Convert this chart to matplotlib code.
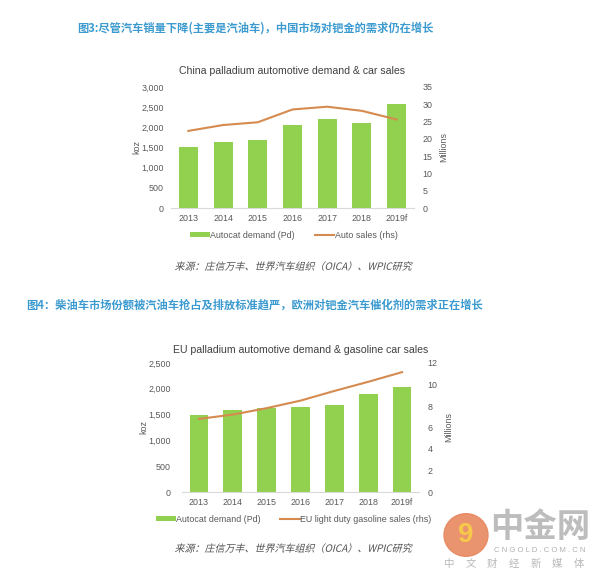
import matplotlib
matplotlib.use('Agg')
import matplotlib.pyplot as plt
import numpy as np
from matplotlib.patches import Circle, PathPatch
from matplotlib.textpath import TextPath
from matplotlib.font_manager import FontProperties
from matplotlib.transforms import Affine2D

plt.rcParams['font.family'] = ['Liberation Sans', 'Noto Sans CJK SC', 'DejaVu Sans']

years = ['2013', '2014', '2015', '2016', '2017', '2018', '2019f']

# China
cn_demand = [1520, 1625, 1675, 2070, 2200, 2100, 2585]
cn_sales = [22.3, 24.0, 24.8, 28.5, 29.3, 28.1, 25.6]

# EU
eu_demand = [1495, 1590, 1625, 1645, 1695, 1890, 2030]
eu_sales = [6.8, 7.2, 7.8, 8.5, 9.4, 10.25, 11.15]

GREEN = '#92d050'
ORANGE = '#d58b4f'
GREY = '#595959'
BLUE = '#3b9ad0'
W, H = 600, 582

fig = plt.figure(figsize=(6, 5.82), dpi=100)


def box(x0, y0, x1, y1):
    # pixel box (top-left origin) -> figure fraction rect
    return [x0 / W, (H - y1) / H, (x1 - x0) / W, (y1 - y0) / H]


def panel(rect, demand, sales, ymax, ystep, rmax, rstep, title, line_label,
          leg_y, lpad, kpad, tpad):
    ax = fig.add_axes(rect)
    x = range(len(years))
    bars = ax.bar(x, demand, width=0.55, color=GREEN, zorder=2)
    ax.set_xlim(-0.5, len(years) - 0.5)
    ax.set_ylim(0, ymax)
    ax.set_yticks(range(0, ymax + 1, ystep))
    ax.set_yticklabels([f'{v:,}' for v in range(0, ymax + 1, ystep)])
    ax.set_xticks(list(x))
    ax.set_xticklabels(years)
    for s in ['top', 'left', 'right']:
        ax.spines[s].set_visible(False)
    ax.spines['bottom'].set_color('#d9d9d9')
    ax.tick_params(length=0, labelsize=6.4, colors=GREY, pad=4)
    ax.tick_params(axis='y', pad=lpad)
    ax.set_ylabel('koz', fontsize=6.4, color=GREY, labelpad=kpad)
    ax.set_title(title, fontsize=7.6, color='#404040', pad=tpad)

    ax2 = ax.twinx()
    line, = ax2.plot(x, sales, color=ORANGE, lw=1.5, zorder=3)
    ax2.set_ylim(0, rmax)
    ax2.set_yticks(range(0, rmax + 1, rstep))
    for s in ['top', 'left', 'right', 'bottom']:
        ax2.spines[s].set_visible(False)
    ax2.tick_params(length=0, labelsize=6.4, colors=GREY, pad=6)
    ax2.set_ylabel('Millions', fontsize=6.4, color=GREY, labelpad=5)

    fig.legend([bars, line], ['Autocat demand (Pd)', line_label],
               loc='center', bbox_to_anchor=(0.49, leg_y), ncol=2,
               frameon=False, fontsize=6.4, labelcolor=GREY,
               handlelength=2.2, handleheight=0.6, handletextpad=0.05,
               columnspacing=2.2)
    return ax


panel(box(171, 87, 414, 208), cn_demand, cn_sales, 3000, 500, 35, 5,
      'China palladium automotive demand & car sales', 'Auto sales (rhs)',
      (H - 235) / H, 5, 0, 9)
panel(box(182, 363, 419, 492), eu_demand, eu_sales, 2500, 500, 12, 2,
      'EU palladium automotive demand & gasoline car sales',
      'EU light duty gasoline sales (rhs)', (H - 519) / H, 8, 0, 7)

cjk = ['Noto Sans CJK SC', 'DejaVu Sans']
fig.text(255 / W, (H - 28) / H,
         '图3:尽管汽车销量下降(主要是汽油车)，中国市场对钯金的需求仍在增长',
         family=cjk, fontsize=8.1, weight='bold', color=BLUE,
         ha='center', va='center')
fig.text(255 / W, (H - 305) / H,
         '图4：柴油车市场份额被汽油车抢占及排放标准趋严，欧洲对钯金汽车催化剂的需求正在增长',
         family=cjk, fontsize=8.1, weight='bold', color=BLUE,
         ha='center', va='center')

# source lines, slanted like the original's italic
src = '来源：庄信万丰、世界汽车组织（OICA）、WPIC研究'
tp = TextPath((0, 0), src, size=7.2, prop=FontProperties(family='Noto Sans CJK SC'))
ext = tp.get_extents()
for yy in (266, 548):
    tr = (Affine2D().translate(-ext.width / 2 - ext.x0, -ext.height / 2 - ext.y0)
          .skew_deg(14, 0).scale(1 / 72)
          .translate(294 / 100, (H - yy) / 100) + fig.dpi_scale_trans)
    fig.patches.append(PathPatch(tp, transform=tr, color='#505050', lw=0))

# watermark
fig.patches.append(Circle((466 / W, (H - 535) / H), 22 / W, transform=fig.transFigure,
                          color='#e8875f', alpha=0.9, zorder=5))
fig.text(466 / W, (H - 535) / H, '9', fontsize=20, weight='bold', color='#f6c94a',
         ha='center', va='center', zorder=6)
fig.text(540 / W, (H - 527) / H, '中金网', family=cjk, fontsize=24, weight='bold',
         color='#bdbdbd', ha='center', va='center', zorder=6)
fig.text(540 / W, (H - 551) / H, 'C N G O L D . C O M . C N', fontsize=5.6,
         color='#b0b0b0', ha='center', va='center', zorder=6)
for cx, ch in zip(np.linspace(449, 579, 7), '中文财经新媒体'):
    fig.text(cx / W, (H - 564) / H, ch, family=cjk, fontsize=7.5,
             color='#b8b8b8', ha='center', va='center', zorder=6)

fig.savefig('out.png', dpi=100)
